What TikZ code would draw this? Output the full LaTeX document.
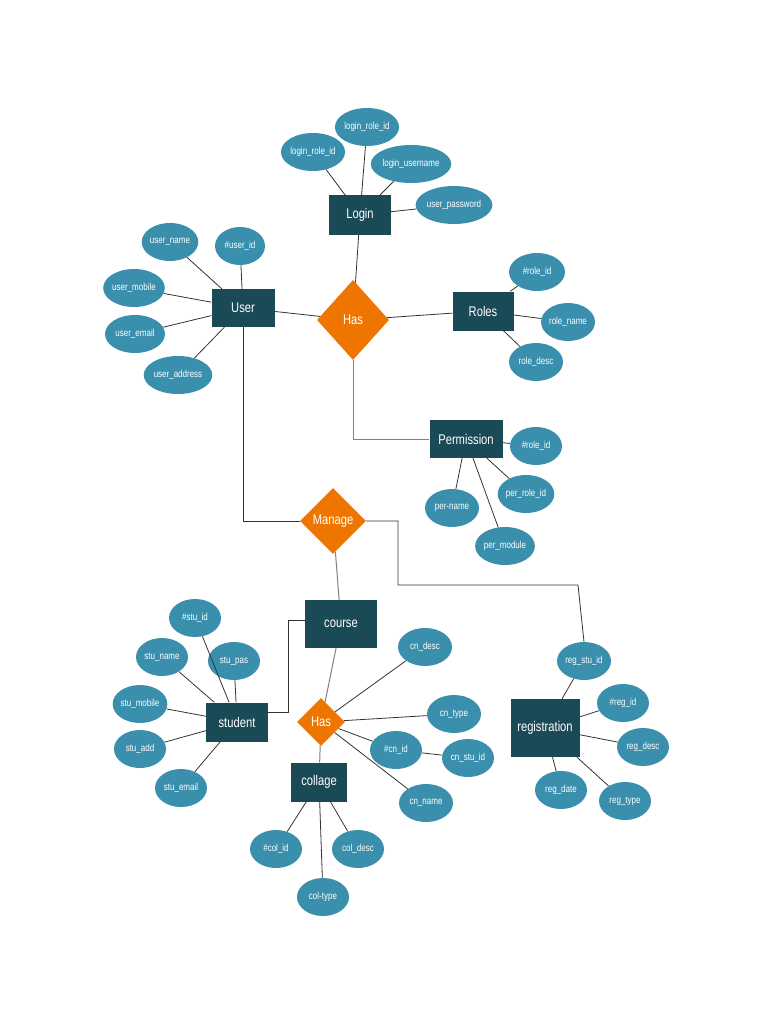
\documentclass[tikz,border=0pt]{standalone}
\usepackage{fontspec}
\setmainfont{Liberation Sans}[FakeStretch=0.8]
\usetikzlibrary{shapes.geometric}
\definecolor{ent}{HTML}{1B4A57}
\definecolor{att}{HTML}{3A8FAD}
\definecolor{rel}{HTML}{EE7600}
\tikzset{
 ent/.style={rectangle,fill=ent,text=white,font=\fontsize{14}{16}\selectfont,inner sep=0pt},
 att/.style={ellipse,fill=att,text=white,font=\fontsize{10}{12}\selectfont,minimum width=58pt,minimum height=38pt,inner sep=0pt},
 rel/.style={diamond,fill=rel,text=white,font=\fontsize{14}{16}\selectfont,inner sep=0pt},
 ln/.style={draw=black!80,line width=0.8pt},
 gl/.style={draw=gray,line width=1pt}
}
\begin{document}
\begin{tikzpicture}[x=1pt,y=-1pt]
\useasboundingbox (0,0) rectangle (768,1024);
% entities
\node[ent,minimum width=62,minimum height=39] (login) at (360,215) {Login};
\node[ent,minimum width=63,minimum height=38] (user) at (243,308) {User};
\node[ent,minimum width=61,minimum height=39] (roles) at (483,311) {Roles};
\node[ent,minimum width=73,minimum height=38] (perm) at (466,439) {Permission};
\node[ent,minimum width=72,minimum height=48] (course) at (341,624) {course};
\node[ent,minimum width=62,minimum height=39] (student) at (237,722) {student};
\node[ent,minimum width=56,minimum height=39] (collage) at (319,782) {collage};
\node[ent,minimum width=69,minimum height=58] (reg) at (545,728) {registration};
% relations
\node[rel,minimum width=72,minimum height=80] (has) at (353,320) {Has};
\node[rel,minimum width=66,minimum height=66] (manage) at (333,521) {Manage};
\node[rel,minimum width=48,minimum height=48] (has2) at (321,722) {Has};
% attributes
\node[att,minimum width=60] (la) at (367,127) {login\_role\_id};
\node[att,minimum width=56] (lb) at (313,152) {login\_role\_id};
\node[att,minimum width=66] (lc) at (411,164) {login\_username};
\node[att,minimum width=60] (ld) at (454,205) {user\_password};
\node[att,minimum width=56] (ua) at (170,242) {user\_name};
\node[att,minimum width=50] (ub) at (240,246) {\#user\_id};
\node[att,minimum width=60] (uc) at (134,288) {user\_mobile};
\node[att,minimum width=60] (ud) at (135,334) {user\_email};
\node[att,minimum width=62] (ue) at (178,375) {user\_address};
\node[att,minimum width=56] (ra) at (537,272) {\#role\_id};
\node[att,minimum width=54] (rb) at (568,322) {role\_name};
\node[att,minimum width=54] (rc) at (536,362) {role\_desc};
\node[att,minimum width=52] (pa) at (536,446) {\#role\_id};
\node[att,minimum width=54] (pb) at (526,494) {per\_role\_id};
\node[att,minimum width=54] (pc) at (452,508) {per-name};
\node[att,minimum width=56] (pd) at (505,546) {per\_module};
\node[att,minimum width=52] (sa) at (195,618) {\#stu\_id};
\node[att,minimum width=52] (sb) at (162,657) {stu\_name};
\node[att,minimum width=52] (sc) at (234,661) {stu\_pas};
\node[att,minimum width=52] (sd) at (140,704) {stu\_mobile};
\node[att,minimum width=52] (se) at (140,749) {stu\_add};
\node[att,minimum width=52] (sf) at (181,788) {stu\_email};
\node[att,minimum width=54] (ca) at (425,647) {cn\_desc};
\node[att,minimum width=54] (cb) at (454,714) {cn\_type};
\node[att,minimum width=52] (cc) at (396,750) {\#cn\_id};
\node[att,minimum width=52] (cd) at (468,758) {cn\_stu\_id};
\node[att,minimum width=54] (ce) at (426,803) {cn\_name};
\node[att,minimum width=54] (ga) at (584,661) {reg\_stu\_id};
\node[att,minimum width=52] (gb) at (623,703) {\#reg\_id};
\node[att,minimum width=52] (gc) at (643,747) {reg\_desc};
\node[att,minimum width=52] (gd) at (561,790) {reg\_date};
\node[att,minimum width=52] (ge) at (625,801) {reg\_type};
\node[att,minimum width=52] (oa) at (276,849) {\#col\_id};
\node[att,minimum width=52] (ob) at (358,849) {col\_desc};
\node[att,minimum width=52] (oc) at (323,897) {col-type};
% relationship lines
\draw[ln] (login) -- (has);
\draw[ln] (user) -- (has);
\draw[ln] (has) -- (roles);
\draw[gl] (has.south) |- (perm.west);
\draw[ln] (user.south) |- (manage.west);
\draw[gl] (manage) -- (course);
\draw[ln] (manage.east) -- (398,521) -- (398,585) -- (578,585) -- (ga.north);
\draw[ln] (student.east |- 0,712) -- (288,712) -- (288,620) -- (course.west |- 0,620);
\draw[gl] (course) -- (has2);
\draw[gl] (has2) -- (collage);
% attribute lines
\foreach \a/\b in {la/login,lb/login,lc/login,ld/login,ua/user,ub/user,uc/user,ud/user,ue/user,
 ra/roles,rb/roles,rc/roles,pa/perm,pb/perm,pc/perm,pd/perm,
 sa/student,sb/student,sc/student,sd/student,se/student,sf/student,
 ca/has2,cb/has2,cc/has2,ce/has2,cc/cd,ga/reg,gb/reg,gc/reg,gd/reg,ge/reg,oa/collage,ob/collage,oc/collage}
 \draw[ln] (\a) -- (\b);
\end{tikzpicture}
\end{document}
